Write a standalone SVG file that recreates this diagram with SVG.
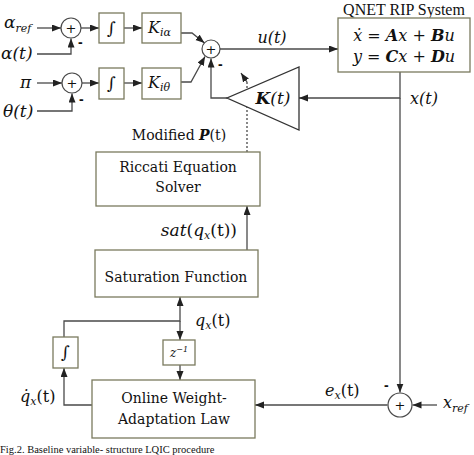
<svg xmlns="http://www.w3.org/2000/svg" width="474" height="455" viewBox="0 0 474 455">
<defs>
<marker id="ah" markerUnits="userSpaceOnUse" markerWidth="10" markerHeight="8" refX="9" refY="3.5" orient="auto">
<path d="M0,0 L9,3.5 L0,7 z" fill="#222"/>
</marker>
<style>
.box{fill:#fff;stroke:#7a7a5e;stroke-width:1.3}
.ln{fill:none;stroke:#4a4a4a;stroke-width:1.3}
.arr{fill:none;stroke:#4a4a4a;stroke-width:1.3;marker-end:url(#ah)}
.sum{fill:#fff;stroke:#4a4a4a;stroke-width:1.2}
.t{font-family:"Liberation Serif","DejaVu Serif",serif;font-size:16px;fill:#111}
.d{font-family:"DejaVu Serif","Liberation Serif",serif;font-size:14px;fill:#111}
.m{font-family:"DejaVu Serif","Liberation Serif",serif;font-style:italic;font-size:16px;fill:#111}
.c{text-anchor:middle}
.b{font-weight:bold}
.sub{font-size:11px}
.pl{font-family:"DejaVu Sans",sans-serif;font-size:13px;fill:#111;text-anchor:middle}
.mn{font-family:"Liberation Sans",sans-serif;font-size:14px;font-weight:bold;fill:#111}
.ig{font-family:"DejaVu Serif",serif;font-size:17px;fill:#111;text-anchor:middle}
</style>
</defs>

<g id="connectors">
<path class="arr" d="M37,28 H61"/>
<path class="arr" d="M37,54 H71 V38.5"/>
<path class="arr" d="M37,83 H62"/>
<path class="arr" d="M37,111 H72 V93.5"/>
<path class="arr" d="M81,28 H99"/>
<path class="arr" d="M124,28 H142"/>
<path class="arr" d="M82,83 H99"/>
<path class="arr" d="M124,83 H142"/>
<path class="arr" d="M181,33 H192 L204.5,43"/>
<path class="arr" d="M181,82 H191 L205,56.5"/>
<path class="arr" d="M220,49 H338"/>
<path class="arr" d="M400,72 V98 H299"/>
<path class="arr" d="M400,98 V392.5"/>
<path class="arr" d="M227,98 H211 V58.5"/>
<path class="ln" d="M247,152 V82" stroke-dasharray="2,2"/>
<path d="M247,82 L241,73" class="arr"/>
<path class="arr" d="M247,250 V206"/>
<path class="arr" d="M64,337 V321 H180 V297"/>
<path class="arr" d="M180,321 V340"/>
<path class="arr" d="M180,365 V380"/>
<path class="arr" d="M92,405 H64 V368"/>
<path class="arr" d="M387.5,405 H255"/>
<path class="arr" d="M437,405 H412.5"/>
</g>

<g id="sum1"><circle class="sum" cx="71" cy="28" r="10"/><text class="pl" x="71" y="32.5">+</text><text class="mn" x="78" y="47">-</text></g>
<g id="sum2"><circle class="sum" cx="72" cy="83" r="10"/><text class="pl" x="72" y="87.5">+</text><text class="mn" x="79" y="104">-</text></g>
<g id="sum3"><circle class="sum" cx="211" cy="49" r="9"/><text class="pl" x="211" y="53.5">+</text><text class="mn" x="218" y="69">-</text></g>
<g id="sum4"><circle class="sum" cx="400" cy="405" r="12"/><text class="pl" x="400" y="410">+</text><text class="mn" x="384" y="390">-</text></g>

<g id="int1"><rect class="box" x="99" y="13" width="25" height="30"/><text class="ig" x="111.5" y="34">∫</text></g>
<g id="int2"><rect class="box" x="99" y="68" width="25" height="31"/><text class="ig" x="111.5" y="89">∫</text></g>
<g id="kia"><rect class="box" x="142" y="13" width="39" height="30"/><text class="m" x="148" y="33">K<tspan class="sub" dy="3">iα</tspan></text></g>
<g id="kit"><rect class="box" x="142" y="68" width="39" height="31"/><text class="m" x="148" y="88">K<tspan class="sub" dy="3">iθ</tspan></text></g>

<g id="inputs">
<text class="m" x="4" y="28" style="font-size:17px">α<tspan class="sub" dy="4">ref</tspan></text>
<text class="m" x="1" y="59" style="font-size:17px">α(t)</text>
<text class="m" x="20" y="88" style="font-size:17px">π</text>
<text class="m" x="3" y="117" style="font-size:17px">θ(t)</text>
</g>

<g id="ulabel"><text class="m c" x="272" y="43">u(t)</text></g>

<g id="qnet">
<text class="t c" x="404" y="15">QNET RIP System</text>
<rect class="box" x="338" y="18" width="132" height="54"/>
<text class="m c" x="404" y="41">x&#775; = <tspan class="b">A</tspan>x + <tspan class="b">B</tspan>u</text>
<text class="m c" x="404" y="62">y = <tspan class="b">C</tspan>x + <tspan class="b">D</tspan>u</text>
</g>
<g id="xlabel"><text class="m c" x="424" y="104">x(t)</text></g>

<g id="gain">
<polygon class="box" points="299,67 299,130 227,98" style="stroke:#333"/>
<text class="m c" x="273" y="104" style="font-size:17px"><tspan class="b">K</tspan>(t)</text>
</g>

<g id="ptext"><text class="d c" x="179" y="140">Modified <tspan class="b" font-style="italic">P</tspan>(t)</text></g>

<g id="riccati">
<rect class="box" x="96" y="152" width="164" height="54"/>
<text class="d c" x="178" y="172">Riccati Equation</text>
<text class="d c" x="178" y="192">Solver</text>
</g>

<g id="satlabel"><text class="m" x="237" y="236" style="font-size:17px;text-anchor:end">sat<tspan style="font-style:normal">(</tspan>q<tspan class="sub" dy="3">x</tspan><tspan dy="-3" style="font-style:normal">(t))</tspan></text></g>

<g id="saturation">
<rect class="box" x="95" y="250" width="163" height="47"/>
<text class="d c" x="176" y="282">Saturation Function</text>
</g>

<g id="qlabel"><text class="m" x="195" y="326">q<tspan class="sub" dy="3">x</tspan><tspan dy="-3" style="font-style:normal">(t)</tspan></text></g>

<g id="zinv"><rect class="box" x="163" y="340" width="32" height="25"/><text class="m c" x="179" y="357" style="font-size:12px">z<tspan style="font-size:8px" dy="-5">−1</tspan></text></g>

<g id="int3"><rect class="box" x="53" y="337" width="25" height="31"/><text class="ig" x="65.5" y="358">∫</text></g>

<g id="qdot"><text class="m" x="20" y="402">q&#775;<tspan class="sub" dy="3">x</tspan><tspan dy="-3" style="font-style:normal">(t)</tspan></text></g>

<g id="online">
<rect class="box" x="92" y="380" width="163" height="58"/>
<text class="d c" x="174" y="403">Online Weight-</text>
<text class="d c" x="174" y="424">Adaptation Law</text>
</g>

<g id="elabel"><text class="m" x="325" y="396">e<tspan class="sub" dy="3">x</tspan><tspan dy="-3" style="font-style:normal">(t)</tspan></text></g>
<g id="xref"><text class="m" x="443" y="408">x<tspan class="sub" dy="4">ref</tspan></text></g>

<text class="t" x="0" y="453" style="font-size:10.5px">Fig.2. Baseline variable- structure LQIC procedure</text>
</svg>
